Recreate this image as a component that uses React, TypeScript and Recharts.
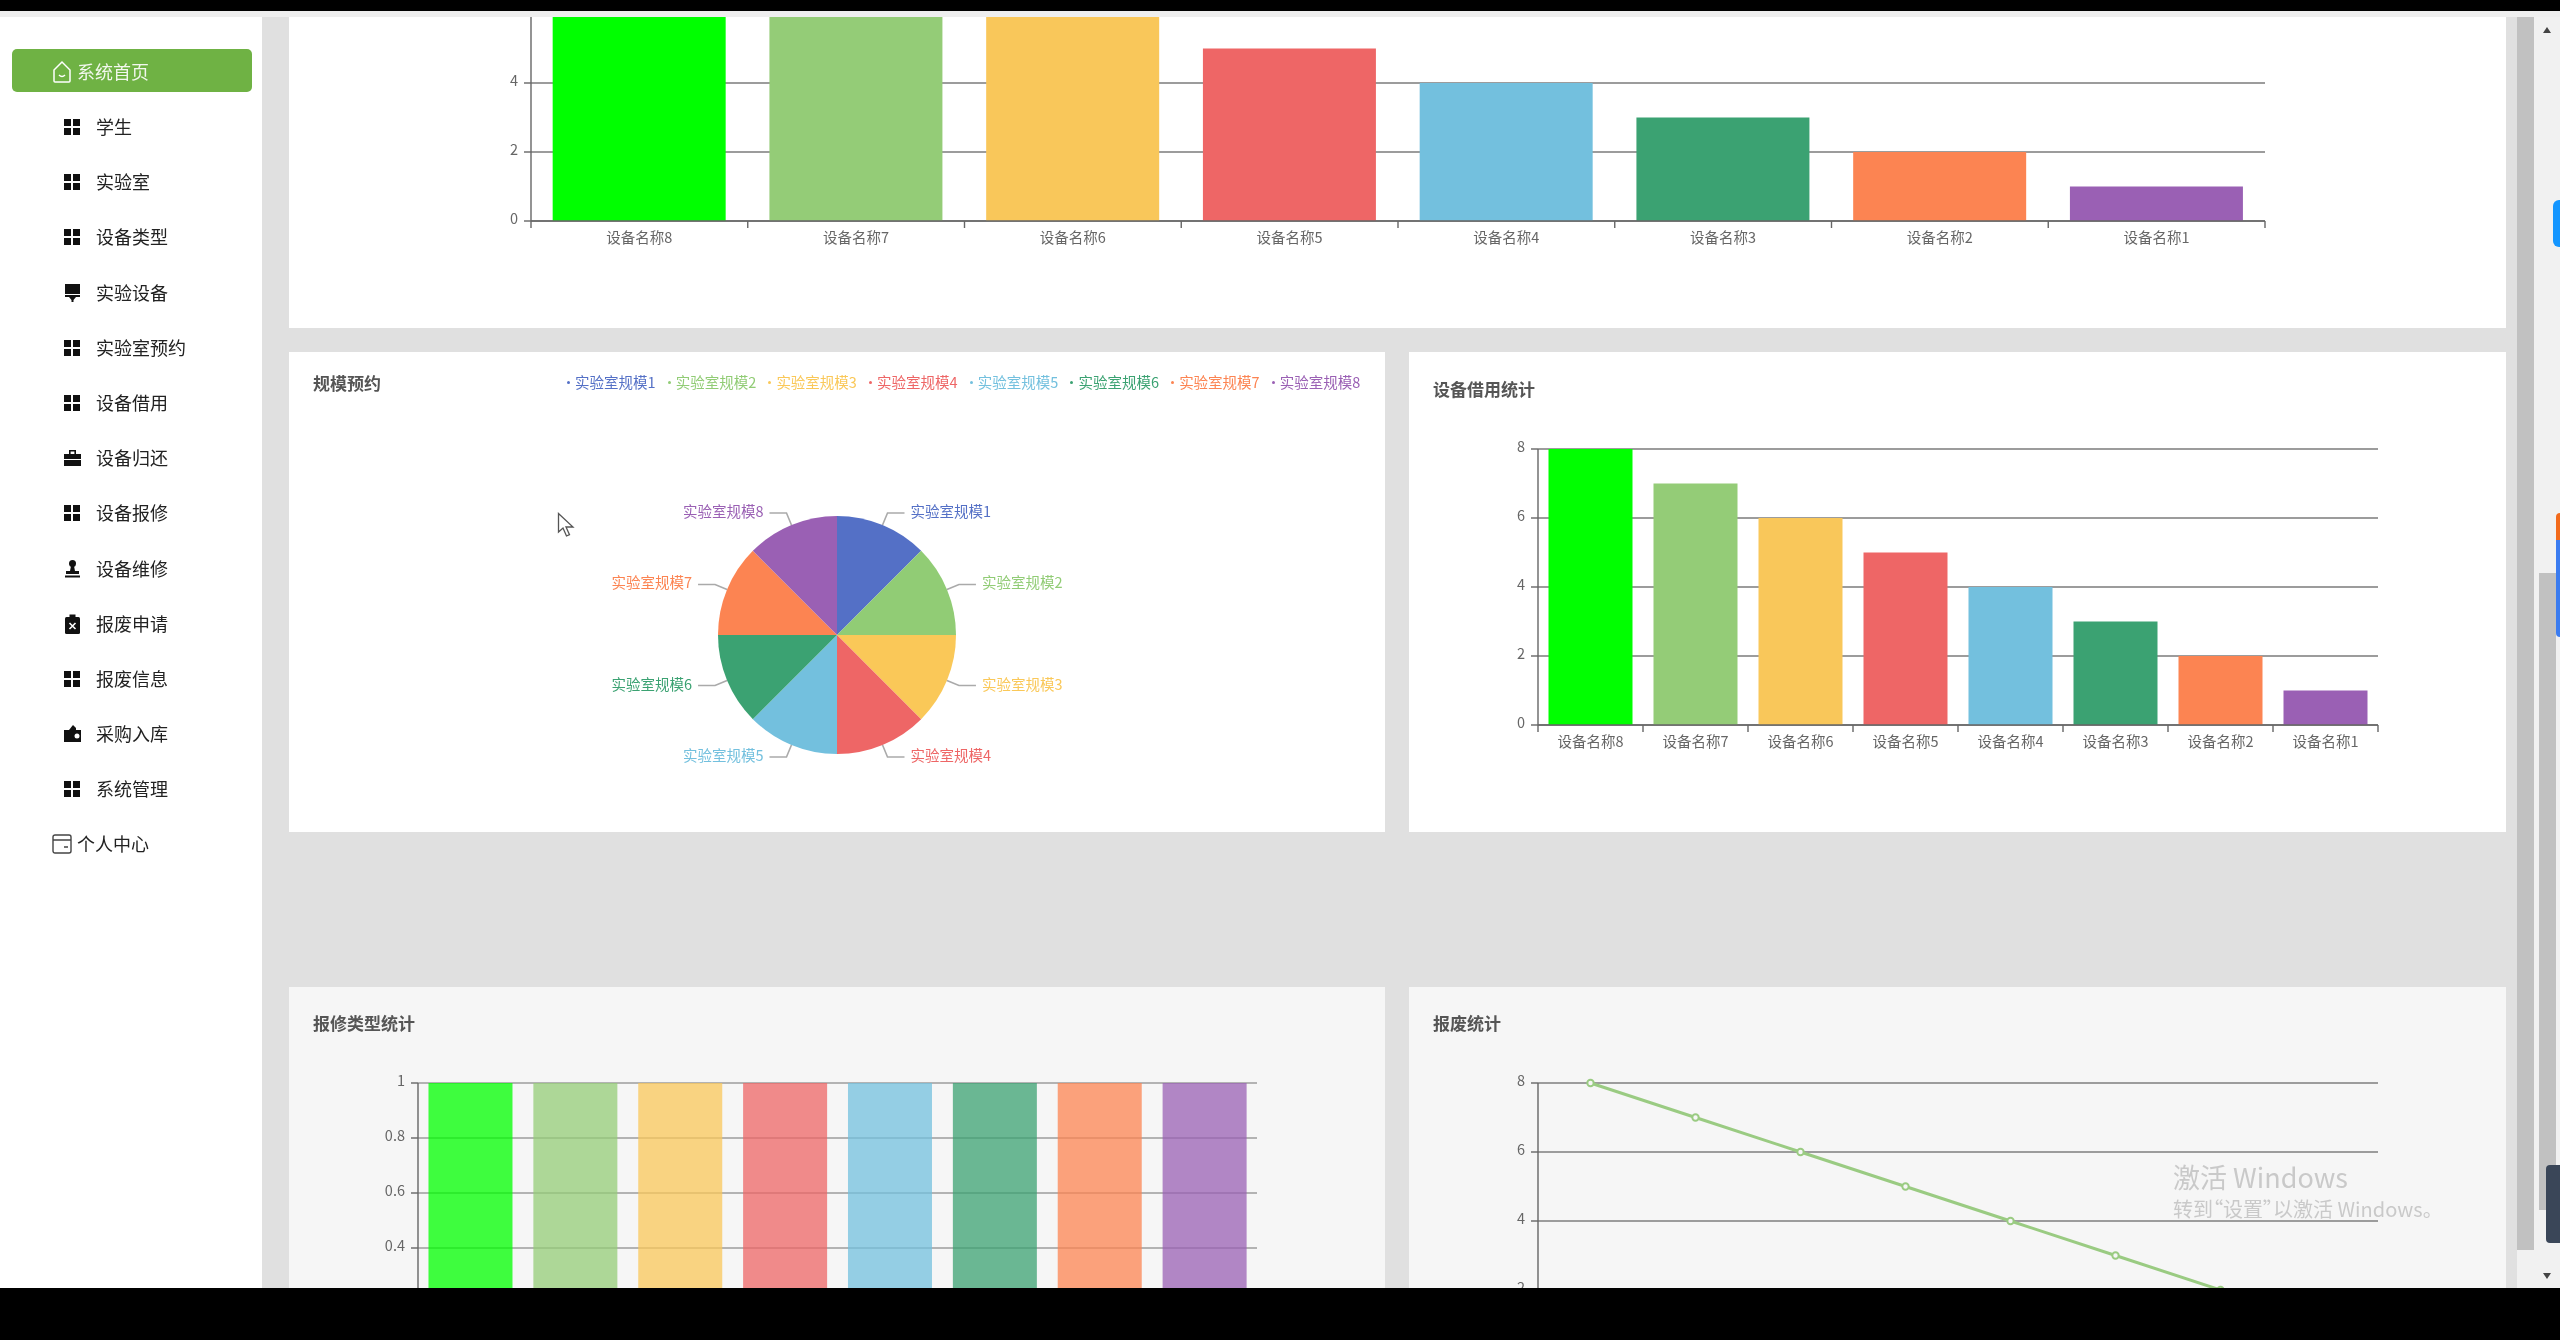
import { Bar, BarChart, CartesianGrid, Cell, Legend, Line, LineChart, Pie, PieChart, XAxis, YAxis } from 'recharts'

const deviceNames = ['设备名称8', '设备名称7', '设备名称6', '设备名称5', '设备名称4', '设备名称3', '设备名称2', '设备名称1']
const deviceCounts = [8, 7, 6, 5, 4, 3, 2, 1]
const borrowCounts = [8, 7, 6, 5, 4, 3, 2, 1]
const repairCounts = [1, 1, 1, 1, 1, 1, 1, 1]
const scrapCounts = [8, 7, 6, 5, 4, 3, 2, 1]
const roomNames = ['实验室规模1', '实验室规模2', '实验室规模3', '实验室规模4', '实验室规模5', '实验室规模6', '实验室规模7', '实验室规模8']
const roomCounts = [1, 1, 1, 1, 1, 1, 1, 1]

// the page is scrolled, so some charts only show part of their ticks
const countTicks = [0, 2, 4, 6, 8]
const topCountTicks = [0, 2, 4]
const scrapTicks = [2, 4, 6, 8]
const ratioTicks = [0.4, 0.6, 0.8, 1]

const pieColors = ['#5470c6', '#91cc75', '#fac858', '#ee6666', '#73c0de', '#3ba272', '#fc8452', '#9a60b4']
const barColors = ['#00ff00', '#94cc77', '#f9c75a', '#ee6666', '#73c0de', '#3ba272', '#fc8452', '#9a60b4']

const menuLabels = ['学生', '实验室', '设备类型', '实验设备', '实验室预约', '设备借用', '设备归还', '设备报修', '设备维修', '报废申请', '报废信息', '采购入库', '系统管理']
const menuIcons = ['grid', 'grid', 'grid', 'brush', 'grid', 'grid', 'case', 'grid', 'stamp', 'clip', 'grid', 'wallet', 'grid']

const FONT = '"Noto Sans CJK SC", "Noto Sans", sans-serif'
const AXIS = '#666'
const GRID = '#9c9c9c'

function box(left: number, top: number, width: number, height: number, background: string, extra = {}) {
  return { position: 'absolute', left, top, width, height, background, ...extra } as React.CSSProperties
}

function MenuIcon({ kind }: { kind: string }) {
  const c = '#111'
  return (
    <svg width={17} height={20} viewBox="0 0 17 20" style={{ display: 'block' }}>
      {kind === 'grid' && (
        <g fill={c}>
          <rect x={0} y={2} width={7} height={7} />
          <rect x={9} y={2} width={7} height={7} />
          <rect x={0} y={11} width={7} height={7} />
          <rect x={9} y={11} width={7} height={7} />
        </g>
      )}
      {kind === 'brush' && (
        <g fill={c}>
          <rect x={1} y={1} width={15} height={10} />
          <rect x={1} y={12} width={15} height={2} />
          <path d="M5 14h7l-2.5 3v2h-2v-2z" />
        </g>
      )}
      {kind === 'case' && (
        <g fill={c}>
          <path d="M5 6V2h7v4h-1.6V3.5H6.6V6z" />
          <rect x={0} y={6} width={17} height={5} />
          <rect x={0} y={12} width={17} height={6} />
        </g>
      )}
      {kind === 'stamp' && (
        <g fill={c}>
          <circle cx={8.5} cy={4.5} r={3.5} />
          <path d="M7 7h3l1 5h4v3H2v-3h4z" />
          <rect x={1} y={16.5} width={15} height={2} />
        </g>
      )}
      {kind === 'clip' && (
        <g>
          <rect x={1} y={3} width={15} height={17} rx={1.5} fill={c} />
          <rect x={5.5} y={0.5} width={6} height={4} fill={c} />
          <path d="M5.5 9l6 6m0-6l-6 6" stroke="#fff" strokeWidth={1.6} />
        </g>
      )}
      {kind === 'wallet' && (
        <g fill={c}>
          <path d="M9 1l3 3v2H5z" />
          <rect x={0} y={6} width={17} height={12} />
          <circle cx={13} cy={12} r={2.5} fill="#fff" />
        </g>
      )}
    </svg>
  )
}

function Sidebar() {
  return (
    <div style={box(0, 17, 262, 1271, '#fff')}>
      <div style={box(12, 32, 240, 43, '#6fb244', { borderRadius: 5 })} />
      <svg width={20} height={24} viewBox="0 0 20 24" style={{ position: 'absolute', left: 52, top: 43 }}>
        <path d="M2 10L10 2l8 8v11a1 1 0 0 1-1 1H3a1 1 0 0 1-1-1z" fill="none" stroke="#fff" strokeWidth={1.5} />
        <path d="M7 15q3 3 6 0" fill="none" stroke="#fff" strokeWidth={1.5} />
      </svg>
      <div style={{ position: 'absolute', left: 77, top: 41, fontSize: 18, lineHeight: '26px', color: '#f2f7ee' }}>系统首页</div>
      {menuLabels.map((label, i) => (
        <div key={label}>
          <div style={{ position: 'absolute', left: 64, top: 100 + i * 55.2 }}>
            <MenuIcon kind={menuIcons[i]} />
          </div>
          <div style={{ position: 'absolute', left: 96, top: 96 + i * 55.2, fontSize: 18, lineHeight: '26px', color: '#222' }}>{label}</div>
        </div>
      ))}
      <svg width={20} height={20} viewBox="0 0 20 20" style={{ position: 'absolute', left: 52, top: 817 }}>
        <rect x={1} y={1} width={18} height={18} rx={2} fill="none" stroke="#444" strokeWidth={1.4} />
        <path d="M1 6h18M12 13h4" stroke="#444" strokeWidth={1.4} />
      </svg>
      <div style={{ position: 'absolute', left: 77, top: 813, fontSize: 18, lineHeight: '26px', color: '#222' }}>个人中心</div>
    </div>
  )
}

// echarts style x axis: ticks sit on the band edges, not on the label
function bandTick(band: number, count: number, opacity: number, showLabel = true) {
  return (props: any) => {
    const { x, y, payload, index } = props
    return (
      <g opacity={opacity}>
        <line x1={x - band / 2} y1={y} x2={x - band / 2} y2={y + 7} stroke={AXIS} strokeWidth={1.4} />
        {index === count - 1 && <line x1={x + band / 2} y1={y} x2={x + band / 2} y2={y + 7} stroke={AXIS} strokeWidth={1.4} />}
        {showLabel && (
          <text x={x} y={y + 15.5} textAnchor="middle" dominantBaseline="central" fontSize={14.5} fill="#666" fontFamily={FONT}>
            {payload.value}
          </text>
        )}
      </g>
    )
  }
}

interface PlotBox {
  left: number
  top: number
  plotW: number
  plotH: number
}

const yTick = { fill: '#666', fontSize: 14.5, fontFamily: FONT, dy: -2 }

function CountBars({ values, colors, ticks, domain, fade = 1, showLabels = true, left, top, plotW, plotH }: PlotBox & { values: number[]; colors: string[]; ticks: number[]; domain: number[]; fade?: number; showLabels?: boolean }) {
  const data = deviceNames.map((name, i) => ({ name, value: values[i] }))
  return (
    <div style={{ position: 'absolute', left: left - 60, top: top - 10 }}>
      <BarChart width={plotW + 80} height={plotH + 50} data={data} margin={{ top: 10, right: 20, bottom: 0, left: 0 }} barCategoryGap="10%">
        <CartesianGrid vertical={false} stroke={GRID} strokeWidth={1.8} strokeOpacity={fade} />
        <XAxis dataKey="name" height={40} interval={0} tickSize={0} tickMargin={0} tickLine={false} axisLine={{ stroke: AXIS, strokeWidth: 1.6 }} tick={bandTick(plotW / 8, 8, fade, showLabels)} />
        <YAxis width={60} domain={domain} ticks={ticks} interval={0} tickSize={7} tickMargin={6} axisLine={{ stroke: AXIS, strokeWidth: 1.4 }} tickLine={{ stroke: AXIS, strokeWidth: 1.4 }} tick={yTick} />
        <Bar dataKey="value" isAnimationActive={false} fillOpacity={fade}>
          {data.map((d, i) => (
            <Cell key={d.name} fill={colors[i]} />
          ))}
        </Bar>
      </BarChart>
    </div>
  )
}

function ScrapLine({ left, top, plotW, plotH }: PlotBox) {
  const data = deviceNames.map((name, i) => ({ name, value: scrapCounts[i] }))
  return (
    <div style={{ position: 'absolute', left: left - 60, top: top - 10 }}>
      <LineChart width={plotW + 80} height={plotH + 50} data={data} margin={{ top: 10, right: 20, bottom: 0, left: 0 }}>
        <CartesianGrid vertical={false} stroke={GRID} strokeWidth={1.8} />
        <XAxis dataKey="name" scale="band" height={40} interval={0} tickSize={0} tickMargin={0} tickLine={false} axisLine={{ stroke: AXIS, strokeWidth: 1.6 }} tick={bandTick(plotW / 8, 8, 0.8, false)} />
        <YAxis width={60} domain={[0, 8]} ticks={scrapTicks} interval={0} tickSize={7} tickMargin={6} axisLine={{ stroke: AXIS, strokeWidth: 1.4 }} tickLine={{ stroke: AXIS, strokeWidth: 1.4 }} tick={yTick} />
        <Line dataKey="value" stroke="#9acb82" strokeWidth={3} dot={{ r: 3.2, fill: '#f6f6f6', stroke: '#9acb82', strokeWidth: 2 }} isAnimationActive={false} />
      </LineChart>
    </div>
  )
}

function PieLabel(props: any) {
  const { cx, cy, midAngle, outerRadius, index } = props
  const rad = (midAngle * Math.PI) / 180
  const cos = Math.cos(rad)
  const sin = Math.sin(rad)
  const dir = cos >= 0 ? 1 : -1
  const sx = cx + outerRadius * cos
  const sy = cy - outerRadius * sin
  const ex = cx + (outerRadius + 13) * cos
  const ey = cy - (outerRadius + 13) * sin
  const tx = ex + dir * 17
  return (
    <g>
      <path d={`M${sx} ${sy}L${ex} ${ey}L${tx} ${ey}`} fill="none" stroke="#aaa" strokeWidth={1.6} />
      <text x={tx + dir * 6} y={ey - 2.5} textAnchor={dir > 0 ? 'start' : 'end'} dominantBaseline="central" fontSize={14.5} fill={pieColors[index]} fontFamily={FONT}>
        {roomNames[index]}
      </text>
    </g>
  )
}

function RoomLegend() {
  return (
    <div style={{ display: 'flex', fontFamily: FONT, fontSize: 14.5, lineHeight: '20px', whiteSpace: 'nowrap' }}>
      {roomNames.map((name, i) => (
        <div key={name} style={{ width: 100.7, display: 'flex', alignItems: 'center', color: pieColors[i] }}>
          <span style={{ width: 3, height: 3, borderRadius: 2, background: pieColors[i], margin: '0 5px 0 0' }} />
          {name}
        </div>
      ))}
    </div>
  )
}

function RoomPie() {
  const data = roomNames.map((name, i) => ({ name, value: roomCounts[i] }))
  return (
    <PieChart width={1096} height={480} margin={{ top: 0, right: 0, bottom: 0, left: 0 }}>
      <Legend content={() => <RoomLegend />} layout="horizontal" wrapperStyle={{ left: 278, top: 20, width: 810, bottom: 'auto' }} />
      <Pie data={data} dataKey="value" nameKey="name" cx={548} cy={283} outerRadius={119} startAngle={90} endAngle={-270} stroke="none" label={PieLabel} labelLine={false} isAnimationActive={false}>
        {data.map((d, i) => (
          <Cell key={d.name} fill={pieColors[i]} />
        ))}
      </Pie>
    </PieChart>
  )
}

function Title({ text, left, top }: { text: string; left: number; top: number }) {
  return <div style={{ position: 'absolute', left, top, fontSize: 17, lineHeight: '24px', fontWeight: 700, color: '#555' }}>{text}</div>
}

export default function App() {
  return (
    <div style={{ position: 'fixed', left: 0, top: 0, width: 2560, height: 1340, overflow: 'hidden', background: '#000', fontFamily: FONT, filter: 'blur(0.5px)' }}>
      <div style={box(0, 11, 2560, 6, '#eee')} />
      <div style={box(0, 17, 2560, 1271, '#e0e0e0')} />
      <Sidebar />

      <div style={box(289, 17, 2217, 311, '#fff', { overflow: 'hidden' })}>
        <CountBars values={deviceCounts} colors={barColors} ticks={topCountTicks} domain={[0, 8]} left={242} top={-72} plotW={1734} plotH={276} />
      </div>

      <div style={box(289, 352, 1096, 480, '#fff', { overflow: 'hidden' })}>
        <Title text="规模预约" left={24} top={19} />
        <RoomPie />
      </div>

      <div style={box(1409, 352, 1097, 480, '#fff', { overflow: 'hidden' })}>
        <Title text="设备借用统计" left={24} top={24.5} />
        <CountBars values={borrowCounts} colors={barColors} ticks={countTicks} domain={[0, 8]} left={129} top={97} plotW={840} plotH={276} />
      </div>

      <div style={box(289, 987, 1096, 301, '#f6f6f6', { overflow: 'hidden' })}>
        <Title text="报修类型统计" left={24} top={23.5} />
        <CountBars values={repairCounts} colors={barColors} ticks={ratioTicks} domain={[0, 1]} fade={0.75} showLabels={false} left={129} top={96} plotW={839} plotH={275} />
      </div>

      <div style={box(1409, 987, 1097, 301, '#f6f6f6', { overflow: 'hidden' })}>
        <Title text="报废统计" left={24} top={23.5} />
        <ScrapLine left={129} top={96} plotW={840} plotH={276} />
      </div>

      <div style={{ position: 'absolute', left: 2173, top: 1158, fontSize: 27, lineHeight: '38px', color: '#c9c9c9' }}>激活 Windows</div>
      <div style={{ position: 'absolute', left: 2173, top: 1195, fontSize: 20, lineHeight: '28px', color: '#c9c9c9', whiteSpace: 'nowrap', fontFeatureSettings: '"palt"' }}>转到“设置”以激活 Windows。</div>

      <svg width={20} height={28} style={{ position: 'absolute', left: 557, top: 512 }}>
        <path d="M1.5 1.5V20L6 16l3.5 8 3-1.3L9 15h7z" fill="#fff" stroke="#555" strokeWidth={1.3} />
      </svg>

      <div style={box(2517, 17, 17, 1233, '#c1c1c1')} />
      <div style={box(2534, 17, 26, 1271, '#f1f1f1')} />
      <div style={box(2517, 1250, 17, 38, '#f1f1f1')} />
      <div style={box(2539, 573, 17, 637, '#c1c1c1')} />
      <svg width={10} height={8} style={{ position: 'absolute', left: 2542, top: 26 }}>
        <path d="M5 1L9 7H1z" fill="#444" />
      </svg>
      <svg width={10} height={8} style={{ position: 'absolute', left: 2542, top: 1272 }}>
        <path d="M5 7L9 1H1z" fill="#444" />
      </svg>
      <div style={box(2553, 200, 7, 47, '#1496ff', { borderRadius: '6px 0 0 6px' })} />
      <div style={box(2556, 513, 4, 27, '#f26a1b', { borderRadius: '4px 0 0 0' })} />
      <div style={box(2556, 540, 4, 97, '#3b7cf0', { borderRadius: '0 0 0 4px' })} />
      <div style={box(2546, 1165, 14, 78, '#3a4658', { borderRadius: '4px 0 0 4px' })} />
    </div>
  )
}
